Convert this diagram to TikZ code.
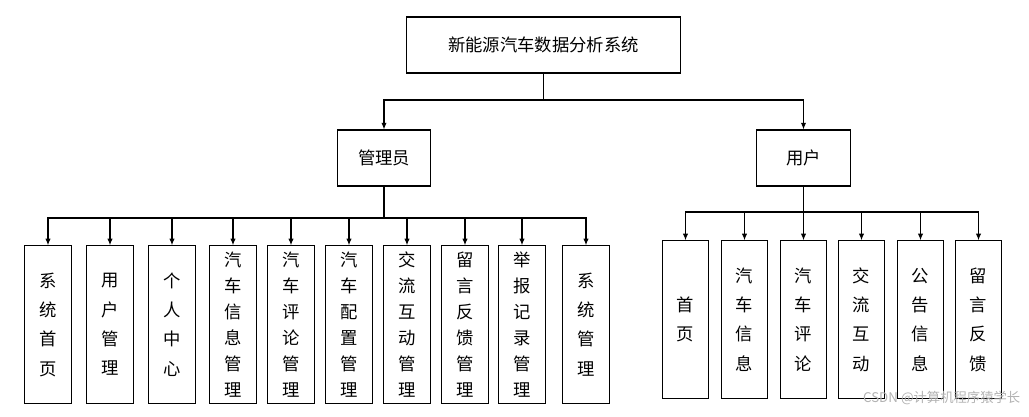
\documentclass[tikz,border=0pt]{standalone}
\usepackage{fontspec}
\setmainfont{Noto Sans CJK SC}
\usetikzlibrary{arrows.meta}
\tikzset{
	box/.style={draw, thick, inner sep=0pt, font=\fontsize{13pt}{22pt}\selectfont, align=center},
	leaf/.style={box, minimum width=35pt, minimum height=118pt},
	tight/.style={font=\fontsize{13pt}{19.5pt}\selectfont},
	link/.style={thick, -{Latex[length=5pt,width=4pt]}}
}
\begin{document}
\begin{tikzpicture}[x=0.75pt,y=-0.75pt]
		\useasboundingbox (0,0) rectangle (1029,417);
		\node[box, minimum width=206pt, minimum height=42pt] (root) at (543.5,45) {新能源汽车数据分析系统};
		\node[box, minimum width=70pt, minimum height=42pt] (admin) at (384,158) {管理员};
		\node[box, minimum width=70pt, minimum height=42pt] (user) at (803.5,158) {用户};
		\coordinate (rb) at (543.5,100);
		\draw[thick] (root) -- (rb);
		\draw[link] (rb) -| (admin);
		\draw[link] (rb) -| (user);
		% admin children
		\coordinate (ab) at (384,218);
		\draw[thick] (admin) -- (ab);
		\foreach \x/\s/\t [count=\i] in {48//系\\统\\首\\页, 110//用\\户\\管\\理, 172//个\\人\\中\\心, 233/tight/汽\\车\\信\\息\\管\\理, 291/tight/汽\\车\\评\\论\\管\\理, 349/tight/汽\\车\\配\\置\\管\\理, 407/tight/交\\流\\互\\动\\管\\理, 465/tight/留\\言\\反\\馈\\管\\理, 522/tight/举\\报\\记\\录\\管\\理, 586//系\\统\\管\\理}
		{
			\node[leaf, \s] (a\i) at (\x,324.5) {\t};
			\draw[link] (ab) -| (a\i);
		}
		% user children
		\coordinate (ub) at (803.5,212);
		\draw[thick] (user) -- (ub);
		\foreach \x/\t [count=\i] in {685.5/首\\页, 744.5/汽\\车\\信\\息, 803.5/汽\\车\\评\\论, 861.5/交\\流\\互\\动, 920.5/公\\告\\信\\息, 978.5/留\\言\\反\\馈}
		{
			\node[leaf] (u\i) at (\x,319.5) {\t};
			\draw[link] (ub) -| (u\i);
		}
		\node[text=gray!60, font=\fontsize{10pt}{12pt}\selectfont, anchor=east] (wm) at (1025,398) {CSDN @计算机程序猿学长};
\end{tikzpicture}
\end{document}
